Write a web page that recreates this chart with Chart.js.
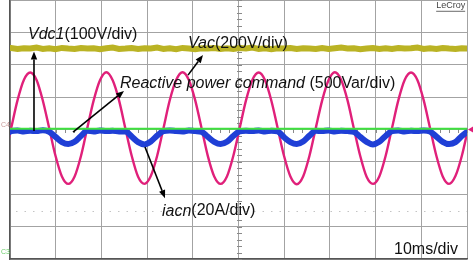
<!DOCTYPE html>
<html>
<head>
<meta charset="utf-8">
<script src="https://cdn.jsdelivr.net/npm/chart.js@4/dist/chart.umd.min.js"></script>
<style>
html,body{margin:0;padding:0;background:#fff;}
#wrap{width:474px;height:266px;}
</style>
</head>
<body>
<div id="wrap"><canvas id="c" width="474" height="266"></canvas></div>
<script>
// Time axis in ms (10 ms/div, 10 divisions); vertical values in divisions
const times = [-1.14,0.25,1.64,3.03,4.42,5.81,7.19,8.58,9.97,11.36,12.75,14.14,15.53,16.92,18.31,19.69,21.08,22.47,23.86,25.25,26.64,28.03,29.42,30.81,32.19,33.58,34.97,36.36,37.75,39.14,40.53,41.92,43.31,44.69,46.08,47.47,48.86,50.25,51.64,53.03,54.42,55.81,57.19,58.58,59.97,61.36,62.75,64.14,65.53,66.92,68.31,69.69,71.08,72.47,73.86,75.25,76.64,78.03,79.42,80.81,82.19,83.58,84.97,86.36,87.75,89.14,90.53,91.92,93.31,94.69,96.08,97.47,98.86,100.25];

// Vdc1 (100V/div) – yellow, noisy flat trace
const vdc1 = [2.50,2.52,2.49,2.51,2.50,2.53,2.49,2.51,2.48,2.52,
  2.50,2.49,2.52,2.50,2.51,2.48,2.51,2.53,2.49,2.50,
  2.52,2.49,2.51,2.50,2.53,2.49,2.51,2.48,2.52,2.50,
  2.48,2.51,2.50,2.52,2.49,2.51,2.49,2.52,2.50,2.53,
  2.49,2.51,2.48,2.51,2.50,2.52,2.49,2.51,2.50,2.49,
  2.52,2.49,2.51,2.53,2.50,2.51,2.48,2.50,2.52,2.49,
  2.51,2.49,2.52,2.50,2.51,2.53,2.49,2.51,2.49,2.52,
  2.50,2.49,2.51,2.50];

// Vac (200V/div) – magenta sine
const vac = [-0.82,
  0.04,0.90,1.53,1.76,1.53,0.89,0.04,-0.82,-1.45,-1.68,-1.45,-0.82,
  0.05,0.90,1.52,1.77,1.52,0.90,0.03,-0.82,-1.46,-1.68,-1.44,-0.82,
  0.04,0.91,1.53,1.77,1.53,0.90,0.04,-0.83,-1.45,-1.68,-1.45,-0.82,
  0.04,0.90,1.53,1.76,1.52,0.89,0.04,-0.82,-1.45,-1.69,-1.45,-0.81,
  0.05,0.90,1.52,1.77,1.53,0.90,0.03,-0.82,-1.46,-1.68,-1.45,-0.82,
  0.04,0.90,1.53,1.76,1.53,0.90,0.04,-0.82,-1.45,-1.68,-1.44,-0.82,
  0.04];

// iacn (20A/div) – blue, dips during negative half cycles
const iacn = [-0.19,
  -0.05,-0.03,-0.06,-0.04,-0.05,-0.02,-0.07,-0.23,-0.39,-0.45,-0.38,-0.20,
  -0.04,-0.06,-0.03,-0.05,-0.04,-0.06,-0.06,-0.22,-0.39,-0.46,-0.37,-0.19,
  -0.05,-0.03,-0.05,-0.06,-0.03,-0.05,-0.07,-0.23,-0.38,-0.45,-0.38,-0.20,
  -0.06,-0.04,-0.05,-0.03,-0.06,-0.04,-0.06,-0.24,-0.39,-0.45,-0.37,-0.19,
  -0.04,-0.05,-0.03,-0.06,-0.04,-0.05,-0.07,-0.23,-0.38,-0.46,-0.38,-0.20,
  -0.05,-0.03,-0.06,-0.04,-0.05,-0.03,-0.06,-0.22,-0.38,-0.45,-0.39,-0.20,
  -0.05];

// Reactive power command (500Var/div) – green flat line
const qTimes = [0, 100];
const qCmd = [0.02, 0.02];

// Labels (text, anchored in data units: ms / div)
const labels = [
  {it:'Vdc1', rg:'(100V/div)', t:3.94, v:2.92},
  {it:'Vac', rg:'(200V/div)', t:38.95, v:2.64},
  {it:'Reactive power command', rg:' (500Var/div)', t:24.07, v:1.41},
  {it:'iacn', rg:'(20A/div)', t:33.26, v:-2.52},
  {it:'', rg:'10ms/div', t:84.03, v:-3.72}
];
// Arrows: [t0, v0] -> [t1, v1] (head at end)
const arrows = [
  [5.25, -0.05, 5.25, 2.41],
  [38.95, 1.68, 42.23, 2.30],
  [13.79, -0.08, 24.95, 1.19],
  [29.54, -0.54, 33.92, -2.12]
];
const dottedLevel = -2.52;

function pts(xs, ys){ return xs.map((x,i)=>({x:x, y:ys[i]})); }

const overlay = {
  id:'overlay',
  beforeDatasetsDraw(chart){
    const {ctx, scales:{x,y}, chartArea:a} = chart;
    ctx.save();
    // minor ticks on centre cross
    ctx.strokeStyle = '#8a8a8a'; ctx.lineWidth = 1;
    const cx = Math.round(x.getPixelForValue(50))+0.5;
    const cy = Math.round(y.getPixelForValue(0))+0.5;
    ctx.beginPath();
    for(let k=-20;k<=20;k++){
      const py = Math.round(y.getPixelForValue(k*0.2))+0.5;
      ctx.moveTo(cx-2.5, py); ctx.lineTo(cx+2.5, py);
    }
    for(let k=0;k<=50;k++){
      const px = Math.round(x.getPixelForValue(k*2))+0.5;
      ctx.moveTo(px, cy-2.5); ctx.lineTo(px, cy+2.5);
    }
    ctx.stroke();
    // faint dotted line
    ctx.strokeStyle = '#c4c4c4'; ctx.setLineDash([1.5,7]);
    const dy = Math.round(y.getPixelForValue(dottedLevel))+0.5;
    ctx.beginPath(); ctx.moveTo(a.left+6, dy); ctx.lineTo(a.right, dy); ctx.stroke();
    ctx.setLineDash([]);
    ctx.restore();
  },
  afterDatasetsDraw(chart){
    const {ctx, scales:{x,y}, chartArea:a} = chart;
    ctx.save();
    // arrows
    ctx.strokeStyle = '#000'; ctx.fillStyle = '#000'; ctx.lineWidth = 1.6;
    arrows.forEach(([t0,v0,t1,v1])=>{
      const x0=x.getPixelForValue(t0), y0=y.getPixelForValue(v0);
      const x1=x.getPixelForValue(t1), y1=y.getPixelForValue(v1);
      const ang=Math.atan2(y1-y0,x1-x0), L=8, W=3.2;
      const bx=x1-L*Math.cos(ang), by=y1-L*Math.sin(ang);
      ctx.beginPath(); ctx.moveTo(x0,y0); ctx.lineTo(bx,by); ctx.stroke();
      ctx.beginPath(); ctx.moveTo(x1,y1);
      ctx.lineTo(bx+W*Math.sin(ang), by-W*Math.cos(ang));
      ctx.lineTo(bx-W*Math.sin(ang), by+W*Math.cos(ang));
      ctx.closePath(); ctx.fill();
    });
    // labels
    ctx.textBaseline = 'middle'; ctx.fillStyle = '#111';
    labels.forEach(l=>{
      let px = x.getPixelForValue(l.t); const py = y.getPixelForValue(l.v);
      if(l.it){
        ctx.font = 'italic 16px "Liberation Sans", Arial, sans-serif';
        ctx.fillText(l.it, px, py); px += ctx.measureText(l.it).width;
      }
      ctx.font = '16px "Liberation Sans", Arial, sans-serif';
      ctx.fillText(l.rg, px, py);
    });
    // LeCroy logo text
    ctx.font = '9px "Liberation Sans", Arial, sans-serif';
    ctx.fillStyle = '#444'; ctx.textAlign = 'right';
    const lx = x.getPixelForValue(99.6), ly = y.getPixelForValue(3.82);
    ctx.fillText('LeCroy', lx, ly);
    const w = ctx.measureText('LeCroy').width;
    ctx.fillRect(lx-w, ly+5, w, 0.8);
    // channel markers
    ctx.textAlign = 'left'; ctx.font = '7px "Liberation Sans", Arial, sans-serif';
    ctx.fillStyle = '#c89a9a';
    ctx.fillText('C4', 1, y.getPixelForValue(0.14));
    ctx.fillStyle = '#6ccf6c';
    ctx.fillText('C3', 1, y.getPixelForValue(-3.8));
    ctx.fillStyle = '#e0207a';
    const ry = y.getPixelForValue(0.0);
    ctx.beginPath(); ctx.moveTo(a.right+1, ry); ctx.lineTo(a.right+6, ry-3); ctx.lineTo(a.right+6, ry+3); ctx.closePath(); ctx.fill();
    ctx.restore();
  }
};

new Chart(document.getElementById('c'), {
  type:'line',
  data:{
    datasets:[
      {label:'Reactive power command', data:pts(qTimes,qCmd), borderColor:'#3ee03e', borderWidth:2, tension:0},
      {label:'iacn', data:pts(times,iacn), borderColor:'#1f3fd6', borderWidth:6, cubicInterpolationMode:'monotone'},
      {label:'Vdc1', data:pts(times,vdc1), borderColor:'#bab324', borderWidth:6, tension:0},
      {label:'Vac', data:pts(times,vac), borderColor:'#e0207a', borderWidth:2.4, cubicInterpolationMode:'monotone'}
    ]
  },
  options:{
    responsive:false, animation:false, devicePixelRatio:1,
    layout:{padding:{left:10, right:7, top:0, bottom:7}},
    elements:{point:{radius:0}},
    plugins:{legend:{display:false}, tooltip:{enabled:false}},
    scales:{
      x:{type:'linear', min:0, max:100,
        ticks:{display:false, stepSize:10},
        grid:{color:'#a3a3a3', drawTicks:false, lineWidth:1},
        border:{display:true, color:'#555', width:1.5},
        afterFit(s){ s.height = 0; }},
      y:{type:'linear', min:-4, max:4,
        ticks:{display:false, stepSize:1},
        grid:{color:'#a3a3a3', drawTicks:false, lineWidth:1},
        border:{display:true, color:'#555', width:1.5},
        afterFit(s){ s.width = 0; }}
    }
  },
  plugins:[overlay]
});
</script>
</body>
</html>
